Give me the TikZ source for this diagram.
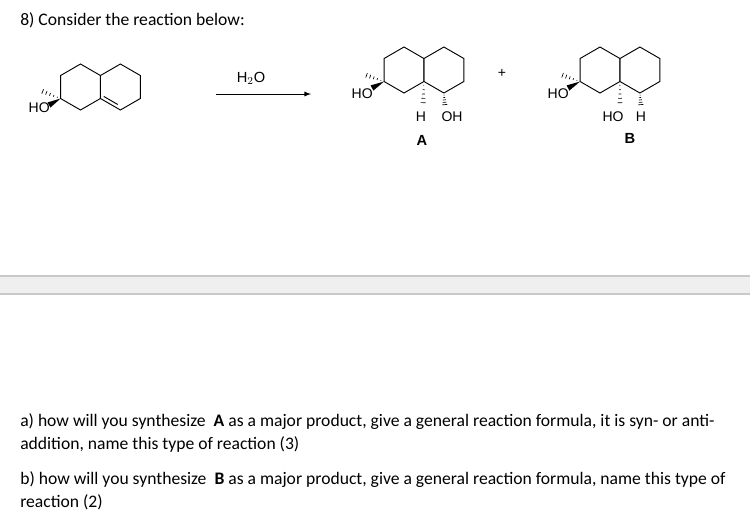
\documentclass[tikz,border=0pt]{standalone}
\usepackage{fontspec}
\setmainfont{Carlito}
\newfontfamily\chem{Liberation Sans}
\usetikzlibrary{calc}
\newcommand{\hexring}[3]{%
  \coordinate (#1-1) at (#2,#3-23);
  \coordinate (#1-2) at (#2+19.92,#3-11.5);
  \coordinate (#1-3) at (#2+19.92,#3+11.5);
  \coordinate (#1-4) at (#2,#3+23);
  \coordinate (#1-5) at (#2-19.92,#3+11.5);
  \coordinate (#1-6) at (#2-19.92,#3-11.5);
  \draw[bond] (#1-1)--(#1-2)--(#1-3)--(#1-4)--(#1-5)--(#1-6)--cycle;}
\newcommand{\hashb}[2]{%
  \foreach \t in {0.15,0.32,0.49,0.66,0.83,1.0}{
    \draw[bond,line width=0.5pt] ($($(#1)!\t!(#2)$)!{\t*2.2pt}!90:(#2)$) -- ($($(#1)!\t!(#2)$)!{\t*2.2pt}!-90:(#2)$);}}
\newcommand{\wedgeb}[2]{%
  \fill (#1) -- ($(#2)!2.2pt!90:(#1)$) -- ($(#2)!2.2pt!-90:(#1)$) -- cycle;}
\begin{document}
\begin{tikzpicture}[x=0.75pt,y=-0.75pt,
  bond/.style={line width=0.7pt},
  lab/.style={font=\chem\fontsize{10.5}{11}\selectfont,inner sep=0pt},
  txt/.style={font=\fontsize{13.2}{15}\selectfont,inner sep=0pt,anchor=base west}]
\useasboundingbox (0,0) rectangle (750,519);
\node[txt] (title) at (20,25) {8) Consider the reaction below:};
% reactant
\hexring{rl}{80.5}{87}
\hexring{rr}{120.4}{87}
\draw[bond] ($(rr-5)!0.15!(rr-4)+(0.3,-3.8)$) -- ($(rr-5)!0.85!(rr-4)+(0.3,-3.8)$);
\coordinate (rme) at (39,90);
\coordinate (rho) at (49,105);
\hashb{rl-5}{rme}
\wedgeb{rl-5}{rho}
\node[lab,anchor=east] (rhol) at (50,108) {HO};
% arrow
\coordinate (a1) at (216,94);
\coordinate (a2) at (311,94);
\draw[bond,-latex] (a1) -- (a2);
\node[lab,font=\chem\fontsize{11}{12}\selectfont] (h2o) at (251,78) {H$_2$O};
% product A
\hexring{al}{404}{70}
\hexring{ar}{443.9}{70}
\coordinate (ame) at (363,74);
\coordinate (aho) at (372,88);
\hashb{al-5}{ame}
\wedgeb{al-5}{aho}
\node[lab,anchor=east] (ahol) at (373,94) {HO};
\coordinate (ahe) at (423,107);
\hashb{al-3}{ahe}
\node[lab] (ah) at (421,117) {H};
\coordinate (aoe) at (445,107);
\hashb{ar-4}{aoe}
\node[lab] (aoh) at (452,117) {OH};
\node[font=\chem\bfseries\fontsize{11}{12}\selectfont] (A) at (422,140) {A};
\node[lab] (plus) at (502,73) {+};
% product B
\hexring{bl}{600}{70}
\hexring{br}{639.9}{70}
\coordinate (bme) at (559,74);
\coordinate (bho) at (568,88);
\hashb{bl-5}{bme}
\wedgeb{bl-5}{bho}
\node[lab,anchor=east] (bhol) at (569,94) {HO};
\coordinate (boe) at (620,107);
\hashb{bl-3}{boe}
\node[lab] (boh) at (613,117) {HO};
\coordinate (bhe) at (641,107);
\hashb{br-4}{bhe}
\node[lab] (bh) at (641,117) {H};
\node[font=\chem\bfseries\fontsize{11}{12}\selectfont] (B) at (630,138) {B};
% grey bar
\fill[fill={rgb,255:red,239;green,239;blue,239}] (0,276) rectangle (750,294);
\draw[color={rgb,255:red,200;green,200;blue,200},line width=0.8pt] (0,276) -- (750,276) (0,294) -- (750,294);
% questions
\node[txt] (qa1) at (20,426) {a) how will you synthesize\ \ \textbf{A} as a major product, give a general reaction formula, it is syn- or anti-};
\node[txt] (qa2) at (20,449) {addition, name this type of reaction (3)};
\node[txt] (qb1) at (20,484) {b) how will you synthesize\ \ \textbf{B} as a major product, give a general reaction formula, name this type of};
\node[txt] (qb2) at (20,507) {reaction (2)};
\end{tikzpicture}
\end{document}
